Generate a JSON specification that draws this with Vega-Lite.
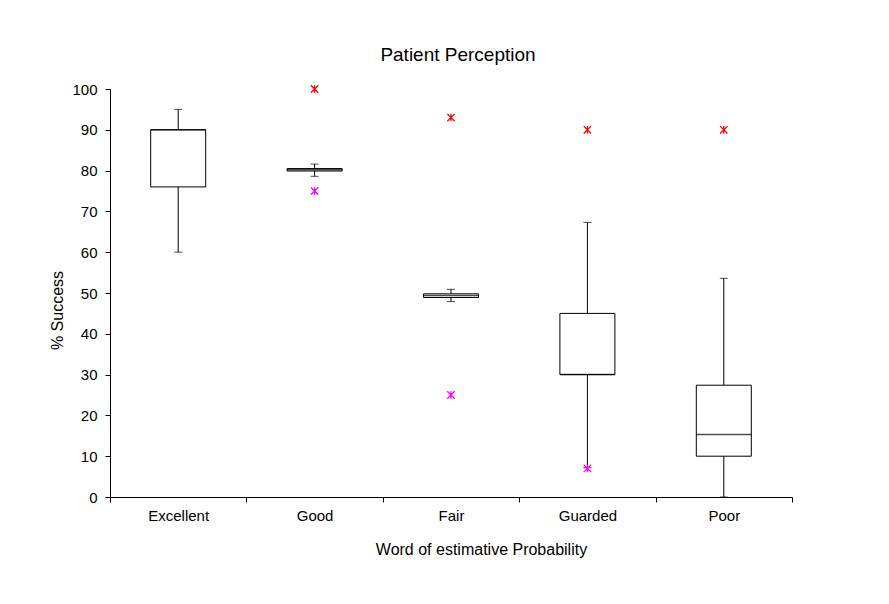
{
  "$schema": "https://vega.github.io/schema/vega-lite/v6.json",
  "autosize": "none",
  "width": 682,
  "height": 408,
  "padding": {"left": 110, "top": 89, "right": 97, "bottom": 107},
  "background": "white",
  "config": {
    "font": "Liberation Sans",
    "view": {"stroke": null},
    "axis": {"grid": false, "domainColor": "black", "tickColor": "black", "labelColor": "black", "titleColor": "black", "labelFont": "Liberation Sans", "titleFont": "Liberation Sans", "labelFontSize": 15, "titleFontSize": 16, "titleFontWeight": "normal"}
  },
  "title": {"text": "Patient Perception", "font": "Liberation Sans", "fontSize": 19, "fontWeight": "normal", "color": "black", "offset": 17, "dx": 7},
  "datasets": {
    "boxes": [
      {"cat": "Excellent", "min": 60, "q1": 76, "median": 90, "q3": 90, "max": 95},
      {"cat": "Good", "min": 78.6, "q1": 79.9, "median": 80.2, "q3": 80.5, "max": 81.6},
      {"cat": "Fair", "min": 47.9, "q1": 48.9, "median": 49.4, "q3": 49.8, "max": 50.9},
      {"cat": "Guarded", "min": 7.2, "q1": 30, "median": 30, "q3": 45, "max": 67.3},
      {"cat": "Poor", "min": 0, "q1": 10, "median": 15.3, "q3": 27.4, "max": 53.6}
    ],
    "outliers": [
      {"cat": "Good", "value": 100, "kind": "high"},
      {"cat": "Good", "value": 75, "kind": "low"},
      {"cat": "Fair", "value": 93, "kind": "high"},
      {"cat": "Fair", "value": 25, "kind": "low"},
      {"cat": "Guarded", "value": 90, "kind": "high"},
      {"cat": "Guarded", "value": 7, "kind": "low"},
      {"cat": "Poor", "value": 90, "kind": "high"}
    ]
  },
  "encoding": {
    "x": {
      "field": "cat", "type": "nominal",
      "sort": ["Excellent", "Good", "Fair", "Guarded", "Poor"],
      "scale": {"domain": ["Excellent", "Good", "Fair", "Guarded", "Poor"], "paddingInner": 0, "paddingOuter": 0},
      "axis": {"title": "Word of estimative Probability", "labelAngle": 0, "tickBand": "extent", "tickSize": 5, "labelPadding": 6, "titlePadding": 18, "titleX": 371, "titleAlign": "center"}
    }
  },
  "layer": [
    {
      "data": {"name": "boxes"},
      "mark": {"type": "rule", "color": "black", "strokeWidth": 1},
      "encoding": {
        "y": {"field": "min", "type": "quantitative", "scale": {"domain": [0, 100], "nice": false}, "axis": {"title": "% Success", "values": [0,10,20,30,40,50,60,70,80,90,100], "tickSize": 5, "labelPadding": 8, "titlePadding": 6, "titleY": 221, "titleAlign": "center"}},
        "y2": {"field": "max"}
      }
    },
    {
      "data": {"name": "boxes"},
      "mark": {"type": "bar", "fill": "white", "stroke": "black", "strokeWidth": 1, "size": 55},
      "encoding": {"y": {"field": "q1", "type": "quantitative"}, "y2": {"field": "q3"}}
    },
    {
      "data": {"name": "boxes"},
      "mark": {"type": "tick", "color": "black", "size": 55, "thickness": 1.5},
      "encoding": {"y": {"field": "median", "type": "quantitative"}}
    },
    {
      "data": {"name": "boxes"},
      "mark": {"type": "tick", "color": "black", "size": 8, "thickness": 1},
      "encoding": {"y": {"field": "max", "type": "quantitative"}}
    },
    {
      "data": {"name": "boxes"},
      "mark": {"type": "tick", "color": "black", "size": 8, "thickness": 1},
      "encoding": {"y": {"field": "min", "type": "quantitative"}}
    },
    {
      "data": {"name": "outliers"},
      "mark": {"type": "point", "shape": "M-1,-1L1,1M-1,1L1,-1M0,-1L0,1", "filled": false, "size": 55, "strokeWidth": 1.3, "opacity": 1},
      "encoding": {
        "y": {"field": "value", "type": "quantitative"},
        "color": {"field": "kind", "type": "nominal", "scale": {"domain": ["high", "low"], "range": ["#FF0000", "#FF00FF"]}, "legend": null}
      }
    }
  ]
}
